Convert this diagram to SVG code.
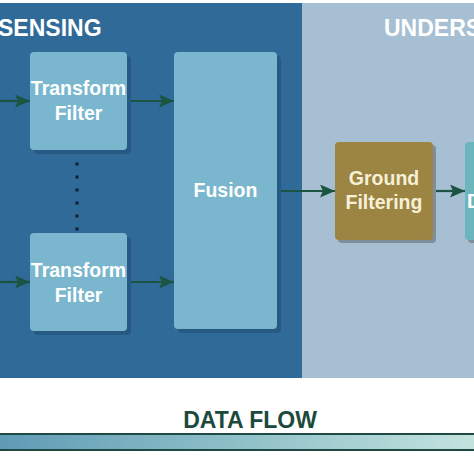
<svg xmlns="http://www.w3.org/2000/svg" width="474" height="474" viewBox="0 0 474 474">
<defs>
<style>
.lbl{font-family:"Liberation Sans",Arial,sans-serif;font-weight:bold;fill:#ffffff;text-anchor:middle;font-size:19.5px}
.hdr{font-family:"Liberation Sans",Arial,sans-serif;font-weight:bold;fill:#ffffff;font-size:23px}
.box{fill:#7ab6cd}
.sh{fill:#265a85}
.conn{stroke:#1b5443;stroke-width:2.2;fill:none}
</style>
<marker id="ah" markerWidth="15" markerHeight="13" refX="15" refY="6.5" orient="auto" markerUnits="userSpaceOnUse">
<path d="M0,0 L15,6.5 L0,13 L3,6.5 Z" fill="#1b5443"/>
</marker>
<linearGradient id="flow" x1="0" y1="0" x2="1" y2="0">
<stop offset="0" stop-color="#5f9bb6"/>
<stop offset="0.5" stop-color="#8fc0c8"/>
<stop offset="1" stop-color="#c3e3df"/>
</linearGradient>
</defs>
<rect x="0" y="0" width="474" height="474" fill="#ffffff"/>
<g id="panel-sensing">
<rect x="0" y="3" width="302" height="375" fill="#2f6a98"/>
<text class="hdr" x="-2" y="36">SENSING</text>
</g>
<g id="panel-understanding">
<rect x="302" y="3" width="172" height="375" fill="#a6bfd3"/>
<text class="hdr" x="384" y="36">UNDERS</text>
</g>
<g id="connectors">
<line class="conn" x1="0" y1="101" x2="30" y2="101" marker-end="url(#ah)"/>
<line class="conn" x1="0" y1="282" x2="30" y2="282" marker-end="url(#ah)"/>
<line class="conn" x1="127" y1="101" x2="174" y2="101" marker-end="url(#ah)"/>
<line class="conn" x1="127" y1="282" x2="174" y2="282" marker-end="url(#ah)"/>
<line class="conn" x1="277" y1="191" x2="335" y2="191" marker-end="url(#ah)"/>
<line class="conn" x1="433" y1="191" x2="465" y2="191" marker-end="url(#ah)"/>
<line x1="77" y1="149.5" x2="77" y2="232" stroke="#0d1e2e" stroke-width="3" stroke-dasharray="3 10"/>
</g>
<g id="transform-filter-1">
<rect class="sh" x="34" y="56" width="97" height="98" rx="4"/>
<rect class="box" x="30" y="52" width="97" height="98" rx="4"/>
<text class="lbl" x="78.5" y="95">Transform</text>
<text class="lbl" x="78.5" y="120">Filter</text>
</g>
<g id="transform-filter-2">
<rect class="sh" x="34" y="237" width="97" height="98" rx="4"/>
<rect class="box" x="30" y="233" width="97" height="98" rx="4"/>
<text class="lbl" x="78.5" y="277">Transform</text>
<text class="lbl" x="78.5" y="302">Filter</text>
</g>
<g id="fusion">
<rect class="sh" x="178" y="56" width="103" height="277" rx="4"/>
<rect class="box" x="174" y="52" width="103" height="277" rx="4"/>
<text class="lbl" x="225.5" y="197">Fusion</text>
</g>
<g id="ground-filtering">
<rect x="338" y="145" width="98" height="98" rx="4" fill="#7f8e9b"/>
<rect x="335" y="142" width="98" height="98" rx="4" fill="#9c8443"/>
<text class="lbl" x="384" y="185" style="fill:#f6f1d6">Ground</text>
<text class="lbl" x="384" y="209" style="fill:#f6f1d6">Filtering</text>
</g>
<g id="next-stage">
<rect x="468" y="145" width="20" height="98" rx="4" fill="#7f8e9b"/>
<rect x="465" y="142" width="20" height="98" rx="4" fill="#6bb5bc"/>
<text class="lbl" x="467" y="208" style="text-anchor:start">D</text>
</g>
<g id="data-flow">
<text x="250" y="428" font-family="'Liberation Sans',Arial,sans-serif" font-weight="bold" font-size="23" fill="#1b4a3c" text-anchor="middle">DATA FLOW</text>
<rect x="-2" y="434" width="478" height="16" fill="url(#flow)" stroke="#1f4a44" stroke-width="2"/>
</g>
</svg>
